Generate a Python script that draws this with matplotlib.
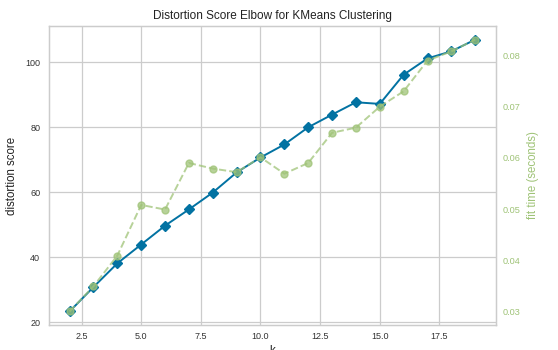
import numpy as np
import matplotlib
matplotlib.use("Agg")
import matplotlib.pyplot as plt

plt.rcParams['font.family'] = ['Liberation Sans', 'DejaVu Sans']

# values
k_values = [2, 3, 4, 5, 6, 7, 8, 9, 10, 11, 12, 13, 14, 15, 16, 17, 18, 19]
distortion = [23.3, 30.8, 38.1, 43.9, 49.7, 54.7, 59.9, 66.1, 70.7,
              74.7, 80.0, 83.9, 87.7, 87.2, 96.2, 101.2, 103.4, 107.0]
fit_time = [0.0300, 0.0349, 0.0409, 0.0508, 0.0499, 0.0590, 0.0579, 0.0572, 0.0601,
            0.0569, 0.0590, 0.0649, 0.0659, 0.0700, 0.0730, 0.0790, 0.0808, 0.0831]

blue = '#0272a2'
green = '#9fc377'
grid_c = '#cccccc'

fig = plt.figure(figsize=(5.58, 3.5), dpi=100)
ax = fig.add_axes([0.0884, 0.0714, 0.7996, 0.8543])
ax.set_facecolor('white')
for s in ax.spines.values():
    s.set_color(grid_c)
    s.set_linewidth(1.0)
ax.grid(True, color=grid_c, linewidth=0.9)
ax.set_axisbelow(True)

ax.plot(k_values, distortion, color=blue, marker='D', markersize=5.5, linewidth=1.4, zorder=3)
ax.set_title('Distortion Score Elbow for KMeans Clustering', fontsize=8.5, color='#222222', pad=5)
ax.set_xlabel('k', fontsize=8.3, color='#222222', labelpad=3)
ax.set_ylabel('distortion score', fontsize=8.3, color='#222222', labelpad=5)
ax.tick_params(axis='x', labelsize=6.5, colors='#333333', length=0, pad=5)
ax.tick_params(axis='y', labelsize=6.5, colors='#333333', length=0, pad=6.5)
ax.set_yticks([20, 40, 60, 80, 100])

ax2 = ax.twinx()
ax2.plot(k_values, fit_time, color=green, marker='o', markersize=5, linestyle='--',
         linewidth=1.4, alpha=0.75, zorder=2)
ax2.grid(False)
for s in ax2.spines.values():
    s.set_color(grid_c)
ax2.set_ylabel('fit time (seconds)', fontsize=8.3, color=green, labelpad=5)
ax2.tick_params(axis='y', labelsize=6.6, colors=green, length=0, pad=5)
ax2.set_yticks([0.03, 0.04, 0.05, 0.06, 0.07, 0.08])
ax2.set_yticklabels(['0.03', '0.04', '0.05', '0.06', '0.07', '0.08'])

fig.savefig('out.png', dpi=100)
